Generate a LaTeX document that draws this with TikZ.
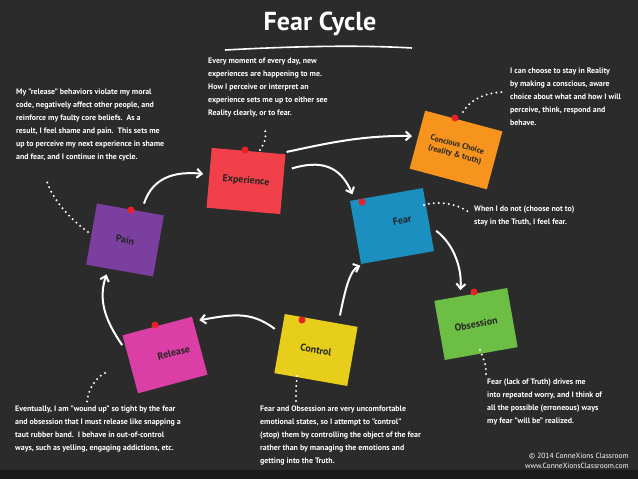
\documentclass[tikz,border=0pt]{standalone}
\usepackage{fontspec}
\setmainfont{PT Sans}
\usetikzlibrary{arrows.meta}
\definecolor{board}{HTML}{2B2B2B}
\definecolor{cred}{HTML}{F2404A}
\definecolor{cblue}{HTML}{1A8FC0}
\definecolor{corange}{HTML}{F7941D}
\definecolor{cgreen}{HTML}{6DBE45}
\definecolor{cyellow}{HTML}{E7CE1A}
\definecolor{cmag}{HTML}{DB3FA6}
\definecolor{cpurple}{HTML}{7B3FA0}
\definecolor{pin}{HTML}{E8202A}
\tikzset{
  note/.style={minimum width=74pt,minimum height=60pt,inner sep=2pt,font=\bfseries\fontsize{10}{11}\selectfont,text=black!85},
  txt/.style={text=white,align=left,anchor=north west,inner sep=0pt,font=\bfseries\fontsize{7.9}{13}\selectfont},
  flow/.style={draw=white,line width=2pt,shorten <=8pt,shorten >=6pt,-{Straight Barb[length=5pt,width=9pt]}},
  dots/.style={draw=white,line width=2.2pt,dash pattern=on 0pt off 5pt,line cap=round},
  pinhead/.style={circle,fill=pin,inner sep=0pt,minimum size=7pt}
}
\begin{document}
\begin{tikzpicture}[x=1pt,y=-1pt]
\fill[board] (0,0) rectangle (638,479);
\useasboundingbox (0,0) rectangle (638,479);
\fill[black!40!board] (0,470) rectangle (638,479);
% title
\node (title) at (320,24) {\color{white}\bfseries\fontsize{26}{28}\selectfont Fear Cycle};
\draw[white,line width=1.6pt] (225,50) .. controls (300,46) and (360,45) .. (412,48);
% notes
\node[note,fill=cred,rotate=-5] (exp) at (246,181) {Experience};
\node[note,fill=cblue,rotate=10,minimum height=64pt] (fear) at (392,226) {\hspace{22pt}\raisebox{8pt}{Fear}};
\node[note,fill=corange,rotate=-15,minimum width=80pt,align=center,font=\bfseries\fontsize{8}{10}\selectfont] (cc) at (456,150) {Concious Choice\\(reality \& truth)};
\node[note,fill=cgreen,rotate=10] (obs) at (476,324) {Obsession};
\node[note,fill=cyellow,rotate=-10] (ctl) at (316,350) {Control};
\node[note,fill=cmag,rotate=15,minimum width=72pt] (rel) at (165,355) {\hspace{18pt}Release};
\node[note,fill=cpurple,rotate=-10,minimum width=68pt,minimum height=62pt] (pain) at (125,240) {Pain};
% pins
\node[pinhead] (p1) at (245,150) {};
\node[pinhead] (p2) at (362,202) {};
\node[pinhead] (p3) at (455,118) {};
\node[pinhead] (p4) at (474,292) {};
\node[pinhead] (p5) at (302,320) {};
\node[pinhead] (p6) at (155,325) {};
\node[pinhead] (p7) at (131,210) {};
% texts
\node[txt] (t1) at (208,58) {Every moment of every day, new\\experiences are happening to me.\\How I perceive or interpret an\\experience sets me up to either see\\Reality clearly, or to fear.};
\node[txt] (t2) at (16,89) {My "release" behaviors violate my moral\\code, negatively affect other people, and\\reinforce my faulty core beliefs.\ \ As a\\result, I feel shame and pain.\ \ This sets me\\up to perceive my next experience in shame\\and fear, and I continue in the cycle.};
\node[txt] (t3) at (510,68) {I can choose to stay in Reality\\by making a conscious, aware\\choice about what and how I will\\perceive, think, respond and\\behave.};
\node[txt] (t4) at (474,206) {When I do not (choose not to)\\stay in the Truth, I feel fear.};
\node[txt] (t5) at (15,406) {Eventually, I am "wound up" so tight by the fear\\and obsession that I must release like snapping a\\taut rubber band.\ \ I behave in out-of-control\\ways, such as yelling, engaging addictions, etc.};
\node[txt] (t6) at (260,406) {Fear and Obsession are very uncomfortable\\emotional states, so I attempt to "control"\\(stop) them by controlling the object of the fear\\rather than by managing the emotions and\\getting into the Truth.};
\node[txt] (t7) at (487,379) {Fear (lack of Truth) drives me\\into repeated worry, and I think of\\all the possible (erroneous) ways\\my fear "will be" realized.};
\node[text=white!85,align=right,anchor=north east,inner sep=0pt,font=\fontsize{7.5}{10}\selectfont] (copy) at (629,453) {© 2014 ConneXions Classroom\\www.ConneXionsClassroom.com};
% dotted connectors
\draw[dots] (260,150) .. controls (266,140) .. (265,128);
\draw[dots] (463,112) .. controls (472,97) and (490,92) .. (505,92);
\draw[dots] (424,205) .. controls (440,200) and (460,205) .. (470,213);
\draw[dots] (480,350) .. controls (486,365) .. (486,378);
\draw[dots] (297,376) .. controls (296,390) .. (296,402);
\draw[dots] (105,373) .. controls (95,378) and (88,390) .. (87,402);
\draw[dots] (88,232) .. controls (65,215) and (50,195) .. (46,178);
% flow arrows
\draw[flow] (exp.20) .. controls (320,160) and (340,165) .. (fear.135);
\draw[flow] (exp.45) .. controls (320,145) and (360,135) .. (cc.175);
\draw[flow] (fear.350) .. controls (455,245) and (462,270) .. (obs.110);
\draw[flow] (ctl.60) .. controls (345,290) and (350,270) .. (fear.225);
\draw[flow] (ctl.165) .. controls (250,310) and (230,315) .. (rel.35);
\draw[flow] (rel.160) .. controls (105,320) and (98,300) .. (pain.250);
\draw[flow] (pain.70) .. controls (150,185) and (165,170) .. (exp.175);
\end{tikzpicture}
\end{document}
